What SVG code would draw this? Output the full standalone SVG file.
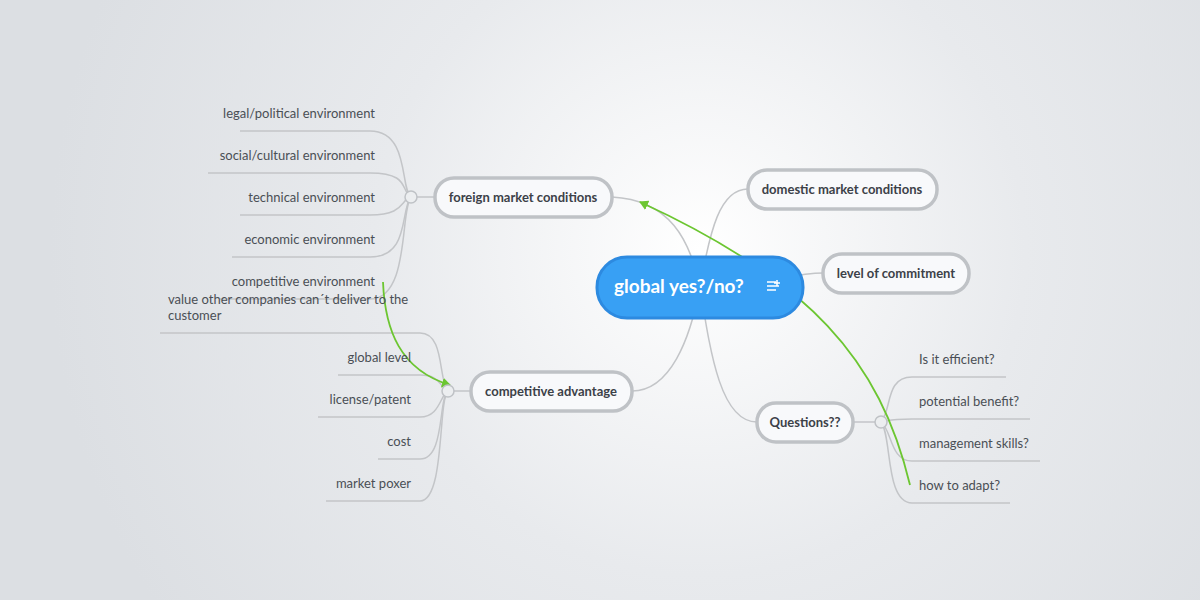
<svg xmlns="http://www.w3.org/2000/svg" width="1200" height="600" viewBox="0 0 1200 600">
<defs>
<radialGradient id="bg" cx="700" cy="250" r="650" gradientUnits="userSpaceOnUse">
<stop offset="0" stop-color="#ffffff"/><stop offset="0.5" stop-color="#e8eaed"/><stop offset="1" stop-color="#dcdfe3"/>
</radialGradient>
<marker id="ga" markerWidth="10" markerHeight="10" refX="8" refY="5" orient="auto" markerUnits="userSpaceOnUse">
<path d="M0,0 L9,5 L0,10 Z" fill="#6cc631"/>
</marker>
<style>
.n{fill:#f8f9fb;stroke:#bfc2c6;stroke-width:3.5}
.nt{font-family:Lato,'Liberation Sans',sans-serif;font-size:13px;font-weight:bold;fill:#3c4148;text-anchor:middle}
.lt{font-family:Lato,'Liberation Sans',sans-serif;font-size:13px;fill:#4a4f55}
.c{fill:none;stroke:#c3c5c8;stroke-width:1.5}
.k{fill:#eceef0;stroke:#bfc2c6;stroke-width:1.5}
.g{fill:none;stroke:#6cc631;stroke-width:1.8}
</style>
</defs>
<rect width="1200" height="600" fill="url(#bg)"/>
<g id="connectors">
<path class="c" d="M700,287 C690,240 670,200 612,197"/>
<path class="c" d="M700,287 C690,340 670,391 632,391"/>
<path class="c" d="M700,287 C710,230 720,189 748,189"/>
<path class="c" d="M700,287 C760,287 790,273 823,273"/>
<path class="c" d="M700,287 C710,350 720,422 757,422"/>
<path class="c" d="M435,197 L411,197"/>
<path class="c" d="M411,197 C400,190 410,131 370,131 L240,131"/>
<path class="c" d="M411,197 C400,190 410,173 370,173 L208,173"/>
<path class="c" d="M411,197 C400,200 405,215 370,215 L240,215"/>
<path class="c" d="M411,197 C400,210 410,257 370,257 L232,257"/>
<path class="c" d="M411,197 C400,210 410,299 370,299 L220,299"/>
<path class="c" d="M471,391 L448,391"/>
<path class="c" d="M448,391 C438,380 445,333 420,333 L160,333"/>
<path class="c" d="M448,391 C438,385 440,375 420,375 L338,375"/>
<path class="c" d="M448,391 C440,395 440,417 420,417 L318,417"/>
<path class="c" d="M448,391 C438,400 445,459 420,459 L378,459"/>
<path class="c" d="M448,391 C438,400 445,501 420,501 L326,501"/>
<path class="c" d="M853,422 L881,422"/>
<path class="c" d="M881,422 C892,410 885,377 912,377 L1006,377"/>
<path class="c" d="M881,422 C892,420 890,419 912,419 L1030,419"/>
<path class="c" d="M881,422 C892,430 890,461 912,461 L1040,461"/>
<path class="c" d="M881,422 C892,435 885,503 912,503 L1010,503"/>
<path class="g" d="M383,282 C385,330 400,370 450,385" marker-end="url(#ga)"/>
<path class="g" d="M910,485 C880,360 810,280 640,202" marker-end="url(#ga)"/>
</g>
<g id="center"><rect x="597" y="257" width="206" height="61" rx="30" fill="#38a0f4" stroke="#2d8ae0" stroke-width="3"/>
<text x="614" y="293" font-family="Lato,'Liberation Sans',sans-serif" font-size="19" font-weight="bold" fill="#fff">global yes?/no?</text>
<path d="M767,282h9M767,286h12M767,290h9M777,280v6M774,283h6" stroke="#fff" stroke-width="1.5"/></g>
<g id="foreign"><rect class="n" x="435" y="178" width="177" height="39" rx="19"/><text class="nt" x="523" y="202">foreign market conditions</text><circle class="k" cx="411" cy="197" r="6"/></g>
<g id="compadv"><rect class="n" x="471" y="372" width="161" height="39" rx="19"/><text class="nt" x="551" y="396">competitive advantage</text><circle class="k" cx="448" cy="391" r="6"/></g>
<g id="domestic"><rect class="n" x="748" y="170" width="189" height="39" rx="19"/><text class="nt" x="842" y="194">domestic market conditions</text></g>
<g id="commit"><rect class="n" x="823" y="254" width="146" height="39" rx="19"/><text class="nt" x="896" y="278">level of commitment</text></g>
<g id="questions"><rect class="n" x="757" y="403" width="96" height="39" rx="19"/><text class="nt" x="805" y="427">Questions??</text><circle class="k" cx="881" cy="422" r="6"/></g>
<g id="leaves-left">
<text class="lt" x="375" y="118" text-anchor="end">legal/political environment</text>
<text class="lt" x="375" y="160" text-anchor="end">social/cultural environment</text>
<text class="lt" x="375" y="202" text-anchor="end">technical environment</text>
<text class="lt" x="375" y="244" text-anchor="end">economic environment</text>
<text class="lt" x="375" y="286" text-anchor="end">competitive environment</text>
<text class="lt" x="168" y="304" text-anchor="start">value other companies can´t deliver to the</text>
<text class="lt" x="168" y="320" text-anchor="start">customer</text>
<text class="lt" x="411" y="362" text-anchor="end">global level</text>
<text class="lt" x="411" y="404" text-anchor="end">license/patent</text>
<text class="lt" x="411" y="446" text-anchor="end">cost</text>
<text class="lt" x="411" y="488" text-anchor="end">market poxer</text>
</g>
<g id="leaves-right">
<text class="lt" x="919" y="364">Is it efficient?</text>
<text class="lt" x="919" y="406">potential benefit?</text>
<text class="lt" x="919" y="448">management skills?</text>
<text class="lt" x="919" y="490">how to adapt?</text>
</g>
</svg>
